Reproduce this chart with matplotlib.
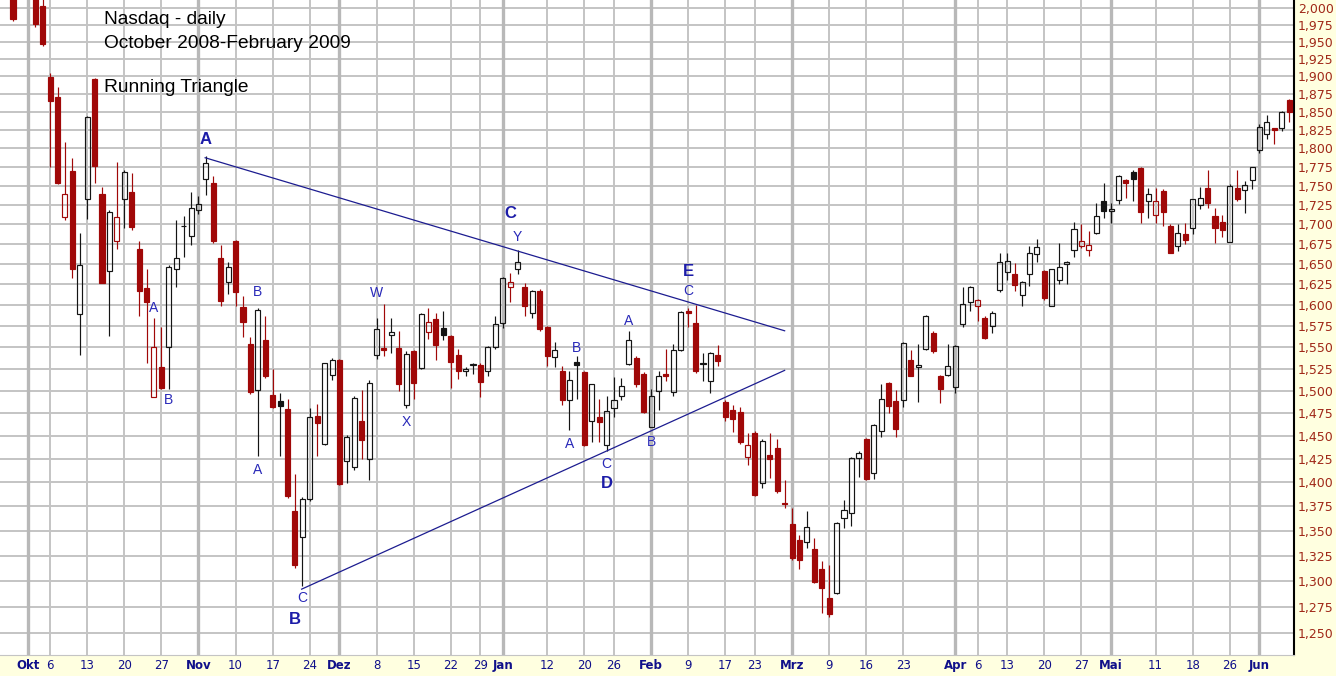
import numpy as np
import pandas as pd
import matplotlib
matplotlib.use('Agg')
import matplotlib.pyplot as plt

# trading days (NYSE), Sep 29 2008 - Jun 5 2009
holidays = ['2008-11-27', '2008-12-25', '2009-01-01', '2009-01-19',
            '2009-02-16', '2009-04-10', '2009-05-25']
dates = pd.bdate_range('2008-09-29', '2009-06-05', freq='C', holidays=holidays)

# daily OHLC
opens = [2150, 2030, 2075, 2050, 2003,
         1899, 1871, 1709, 1769, 1589, 1733, 1896, 1739, 1641, 1678,
         1733, 1741, 1669, 1620, 1493, 1527, 1550, 1643, 1697, 1685,
         1718, 1759, 1754, 1657, 1628, 1678, 1597, 1553, 1501, 1558,
         1495, 1488, 1479, 1370, 1344, 1383, 1472, 1441, 1518,
         1535, 1423, 1416, 1466, 1425, 1541, 1549, 1564, 1549, 1484,
         1545, 1526, 1568, 1583, 1572, 1563, 1541, 1522, 1529, 1529,
         1522, 1550,
         1578, 1621, 1643, 1621, 1590, 1617, 1573, 1538, 1522, 1490,
         1533, 1521, 1466, 1470, 1440, 1481, 1494, 1530, 1537, 1519,
         1460, 1499, 1519, 1498, 1547, 1592, 1578, 1532, 1511, 1541,
         1487, 1478, 1476, 1427, 1453, 1399, 1429, 1437, 1378,
         1357, 1341, 1339, 1332, 1312, 1283, 1288, 1363, 1368, 1426,
         1446, 1410, 1455, 1509, 1488, 1490, 1535, 1527, 1548, 1566,
         1516, 1518,
         1504, 1577, 1603, 1598, 1584, 1575, 1618, 1640, 1637, 1612,
         1638, 1662, 1641, 1599, 1630, 1650, 1667, 1672, 1667, 1689,
         1730,
         1717, 1731, 1758, 1768, 1773, 1730, 1712, 1743, 1698, 1672,
         1688, 1695, 1725, 1747, 1711, 1703, 1677, 1747, 1744, 1757,
         1797, 1819, 1827, 1828, 1866]
highs = [2180, 2095, 2080, 2060, 2040,
         1905, 1884, 1808, 1786, 1689, 1844, 1898, 1748, 1718, 1781,
         1770, 1766, 1678, 1643, 1584, 1574, 1649, 1705, 1711, 1741,
         1736, 1789, 1762, 1673, 1652, 1680, 1610, 1562, 1596, 1586,
         1525, 1497, 1491, 1409, 1385, 1480, 1485, 1532, 1537,
         1536, 1451, 1494, 1501, 1512, 1584, 1601, 1584, 1569, 1545,
         1547, 1590, 1596, 1590, 1592, 1564, 1548, 1527, 1531, 1531,
         1551, 1586,
         1634, 1639, 1667, 1626, 1618, 1619, 1575, 1556, 1528, 1522,
         1539, 1522, 1508, 1491, 1494, 1515, 1514, 1569, 1539, 1521,
         1502, 1522, 1548, 1554, 1593, 1596, 1600, 1543, 1544, 1552,
         1490, 1484, 1482, 1453, 1455, 1446, 1453, 1446, 1402,
         1373, 1346, 1370, 1343, 1320, 1316, 1359, 1382, 1427, 1433,
         1447, 1463, 1508, 1510, 1501, 1556, 1546, 1554, 1588, 1569,
         1518, 1554,
         1552, 1622, 1623, 1607, 1587, 1593, 1663, 1663, 1651, 1629,
         1672, 1681, 1642, 1644, 1676, 1654, 1703, 1700, 1691, 1727,
         1754,
         1727, 1764, 1759, 1770, 1774, 1747, 1747, 1745, 1700, 1700,
         1702, 1733, 1748, 1770, 1721, 1712, 1752, 1771, 1756, 1775,
         1833, 1846, 1828, 1851, 1868]
lows = [1980, 2020, 2035, 1972, 1943,
        1775, 1752, 1705, 1633, 1541, 1707, 1753, 1626, 1563, 1669,
        1695, 1692, 1586, 1532, 1493, 1502, 1502, 1622, 1658, 1673,
        1713, 1738, 1676, 1598, 1613, 1598, 1562, 1496, 1428, 1514,
        1480, 1428, 1384, 1313, 1295, 1381, 1428, 1440, 1512,
        1397, 1399, 1413, 1425, 1403, 1536, 1539, 1543, 1500, 1480,
        1491, 1524, 1559, 1535, 1558, 1503, 1513, 1516, 1519, 1493,
        1516, 1548,
        1572, 1603, 1637, 1587, 1584, 1569, 1528, 1527, 1484, 1456,
        1491, 1439, 1443, 1443, 1433, 1470, 1489, 1529, 1504, 1475,
        1459, 1478, 1511, 1494, 1545, 1574, 1520, 1511, 1497, 1528,
        1466, 1454, 1441, 1418, 1386, 1394, 1405, 1389, 1373,
        1321, 1312, 1333, 1298, 1269, 1265, 1287, 1353, 1355, 1406,
        1402, 1404, 1449, 1475, 1449, 1482, 1516, 1487, 1546, 1543,
        1486, 1516,
        1497, 1574, 1592, 1581, 1559, 1566, 1616, 1630, 1617, 1599,
        1623, 1652, 1606, 1598, 1625, 1625, 1659, 1670, 1660, 1688,
        1708,
        1702, 1726, 1734, 1730, 1702, 1708, 1701, 1697, 1664, 1666,
        1675, 1688, 1719, 1721, 1676, 1684, 1677, 1730, 1714, 1745,
        1793, 1813, 1806, 1823, 1836]
closes = [1983, 2091, 2069, 1976, 1947,
          1865, 1754, 1739, 1643, 1648, 1842, 1776, 1627, 1716, 1709,
          1768, 1696, 1617, 1603, 1550, 1503, 1646, 1657, 1698, 1721,
          1726, 1780, 1679, 1605, 1646, 1615, 1579, 1498, 1594, 1517,
          1482, 1483, 1386, 1316, 1383, 1471, 1464, 1531, 1535,
          1398, 1449, 1492, 1445, 1509, 1571, 1547, 1567, 1507, 1542,
          1509, 1589, 1579, 1552, 1564, 1533, 1522, 1525, 1530, 1510,
          1550, 1577,
          1632, 1628, 1652, 1599, 1617, 1571, 1539, 1547, 1490, 1512,
          1529, 1440, 1507, 1465, 1477, 1490, 1505, 1558, 1507, 1476,
          1494, 1517, 1516, 1547, 1591, 1590, 1522, 1530, 1543, 1534,
          1470, 1468, 1443, 1440, 1387, 1444, 1425, 1391, 1377,
          1323, 1321, 1354, 1299, 1293, 1268, 1358, 1371, 1426, 1431,
          1404, 1462, 1491, 1483, 1457, 1555, 1517, 1529, 1587, 1545,
          1502, 1528,
          1551, 1601, 1621, 1606, 1561, 1590, 1652, 1653, 1624, 1628,
          1664, 1671, 1608, 1643, 1646, 1652, 1694, 1678, 1673, 1711,
          1717,
          1719, 1763, 1754, 1759, 1716, 1739, 1730, 1715, 1664, 1689,
          1680, 1732, 1734, 1727, 1695, 1692, 1750, 1732, 1751, 1774,
          1829, 1836, 1825, 1850, 1849]

# date axis labels
tick_dates = ['2008-10-01', '2008-10-06', '2008-10-13', '2008-10-20', '2008-10-27',
              '2008-11-03', '2008-11-10', '2008-11-17', '2008-11-24',
              '2008-12-01', '2008-12-08', '2008-12-15', '2008-12-22', '2008-12-29',
              '2009-01-02', '2009-01-12', '2009-01-20', '2009-01-26',
              '2009-02-02', '2009-02-09', '2009-02-17', '2009-02-23',
              '2009-03-02', '2009-03-09', '2009-03-16', '2009-03-23',
              '2009-04-01', '2009-04-06', '2009-04-13', '2009-04-20', '2009-04-27',
              '2009-05-01', '2009-05-11', '2009-05-18', '2009-05-26',
              '2009-06-01']
tick_labels = ['Okt', '6', '13', '20', '27', 'Nov', '10', '17', '24',
               'Dez', '8', '15', '22', '29', 'Jan', '12', '20', '26',
               'Feb', '9', '17', '23', 'Mrz', '9', '16', '23',
               'Apr', '6', '13', '20', '27', 'Mai', '11', '18', '26', 'Jun']
price_ticks = list(range(1250, 2001, 25))

# wave labels: (text, date, price)
small_labels = [('A', '2008-10-24', 1596), ('B', '2008-10-28', 1489),
                ('B', '2008-11-13', 1615), ('A', '2008-11-13', 1413),
                ('C', '2008-11-21', 1283), ('W', '2008-12-08', 1614),
                ('X', '2008-12-12', 1465), ('Y', '2009-01-06', 1684),
                ('A', '2009-01-15', 1441), ('B', '2009-01-16', 1549),
                ('C', '2009-01-23', 1419), ('A', '2009-01-28', 1581),
                ('B', '2009-02-02', 1443), ('C', '2009-02-09', 1617)]
big_labels = [('A', '2008-11-04', 1812), ('B', '2008-11-20', 1263),
              ('C', '2009-01-05', 1713), ('D', '2009-01-23', 1399),
              ('E', '2009-02-09', 1641)]
# triangle boundary lines: (start date, start price, end date, end price)
upper_line = ('2008-11-04', 1787, '2009-02-27', 1569)
lower_line = ('2008-11-21', 1292, '2009-02-27', 1523)

RED = '#a00808'
BLACK = '#141414'
BLUE = '#2828b8'
GRID = '#c4c4c4'

def pos(d):
    return dates.get_loc(pd.Timestamp(d))

fig = plt.figure(figsize=(13.36, 6.76), dpi=100, facecolor='#ffffe0')
ax = fig.add_axes([0, 21 / 676, 1294 / 1336, 655 / 676])
ax.set_facecolor('white')
ax.set_yscale('log')

x = np.arange(len(dates))
o, h, l, c = (np.array(a, dtype=float) for a in (opens, highs, lows, closes))
prev = np.concatenate([[o[0]], c[:-1]])
col = np.where(c < prev, RED, BLACK)   # red = lower close than the day before
top = np.maximum(o, c)
bot = np.minimum(o, c)
face = [cc if filled else 'none' for cc, filled in zip(col, c < o)]

# grid
for v in price_ticks:
    ax.axhline(v, color=GRID, lw=1.4, zorder=0)
for d, lab in zip(tick_dates, tick_labels):
    month = lab.isalpha()
    ax.axvline(pos(d), color='#b8b8b8' if month else GRID, lw=2.4 if month else 1.4, zorder=0)

# candles
ax.vlines(x, top, h, colors=col, lw=0.85, zorder=2)
ax.vlines(x, l, bot, colors=col, lw=0.85, zorder=2)
ax.bar(x, top - bot, width=0.68, bottom=bot, color=face, edgecolor=col, linewidth=0.85, zorder=3)

# triangle
for d0, v0, d1, v1 in (upper_line, lower_line):
    ax.plot([pos(d0) - 0.1, pos(d1)], [v0, v1], color='#1c1c90', lw=0.9, zorder=4)

for t, d, v in small_labels:
    ax.text(pos(d), v, t, color=BLUE, fontsize=10, ha='center', va='center',
            family='Liberation Sans', zorder=5)
for t, d, v in big_labels:
    ax.text(pos(d), v, t, color='#1c1ca8', fontsize=12, fontweight='bold', ha='center',
            va='center', family='Liberation Sans', zorder=5)

for txt, yy in (('Nasdaq - daily', 1 - 20 / 655), ('October 2008-February 2009', 1 - 43 / 655),
                ('Running Triangle', 1 - 88 / 655)):
    ax.text(104 / 1294, yy, txt, transform=ax.transAxes, fontsize=13.8, color='black',
            ha='left', va='center', family='Liberation Sans', zorder=5)

ax.set_xlim(-1.75, 172.65)
ax.set_ylim(1229.6, 2012)

ax.yaxis.tick_right()
ax.set_yticks(price_ticks)
ax.set_yticklabels([f'{v:,}' for v in price_ticks], color='#a02818', fontsize=9)
ax.yaxis.set_minor_locator(plt.NullLocator())
ax.tick_params(axis='y', length=0, pad=3)

ax.set_xticks([pos(d) for d in tick_dates])
ax.set_xticklabels(tick_labels, color='#10108a', fontsize=8.5)
for lab in ax.get_xticklabels():
    if lab.get_text().isalpha():
        lab.set_fontweight('bold')
ax.tick_params(axis='x', length=0, pad=3)

for s in ('top', 'left'):
    ax.spines[s].set_visible(False)
ax.spines['bottom'].set_color('#c4c4c4')
ax.spines['right'].set_color('black')
ax.spines['right'].set_linewidth(1.5)

fig.savefig('out.png', dpi=100, facecolor=fig.get_facecolor())
